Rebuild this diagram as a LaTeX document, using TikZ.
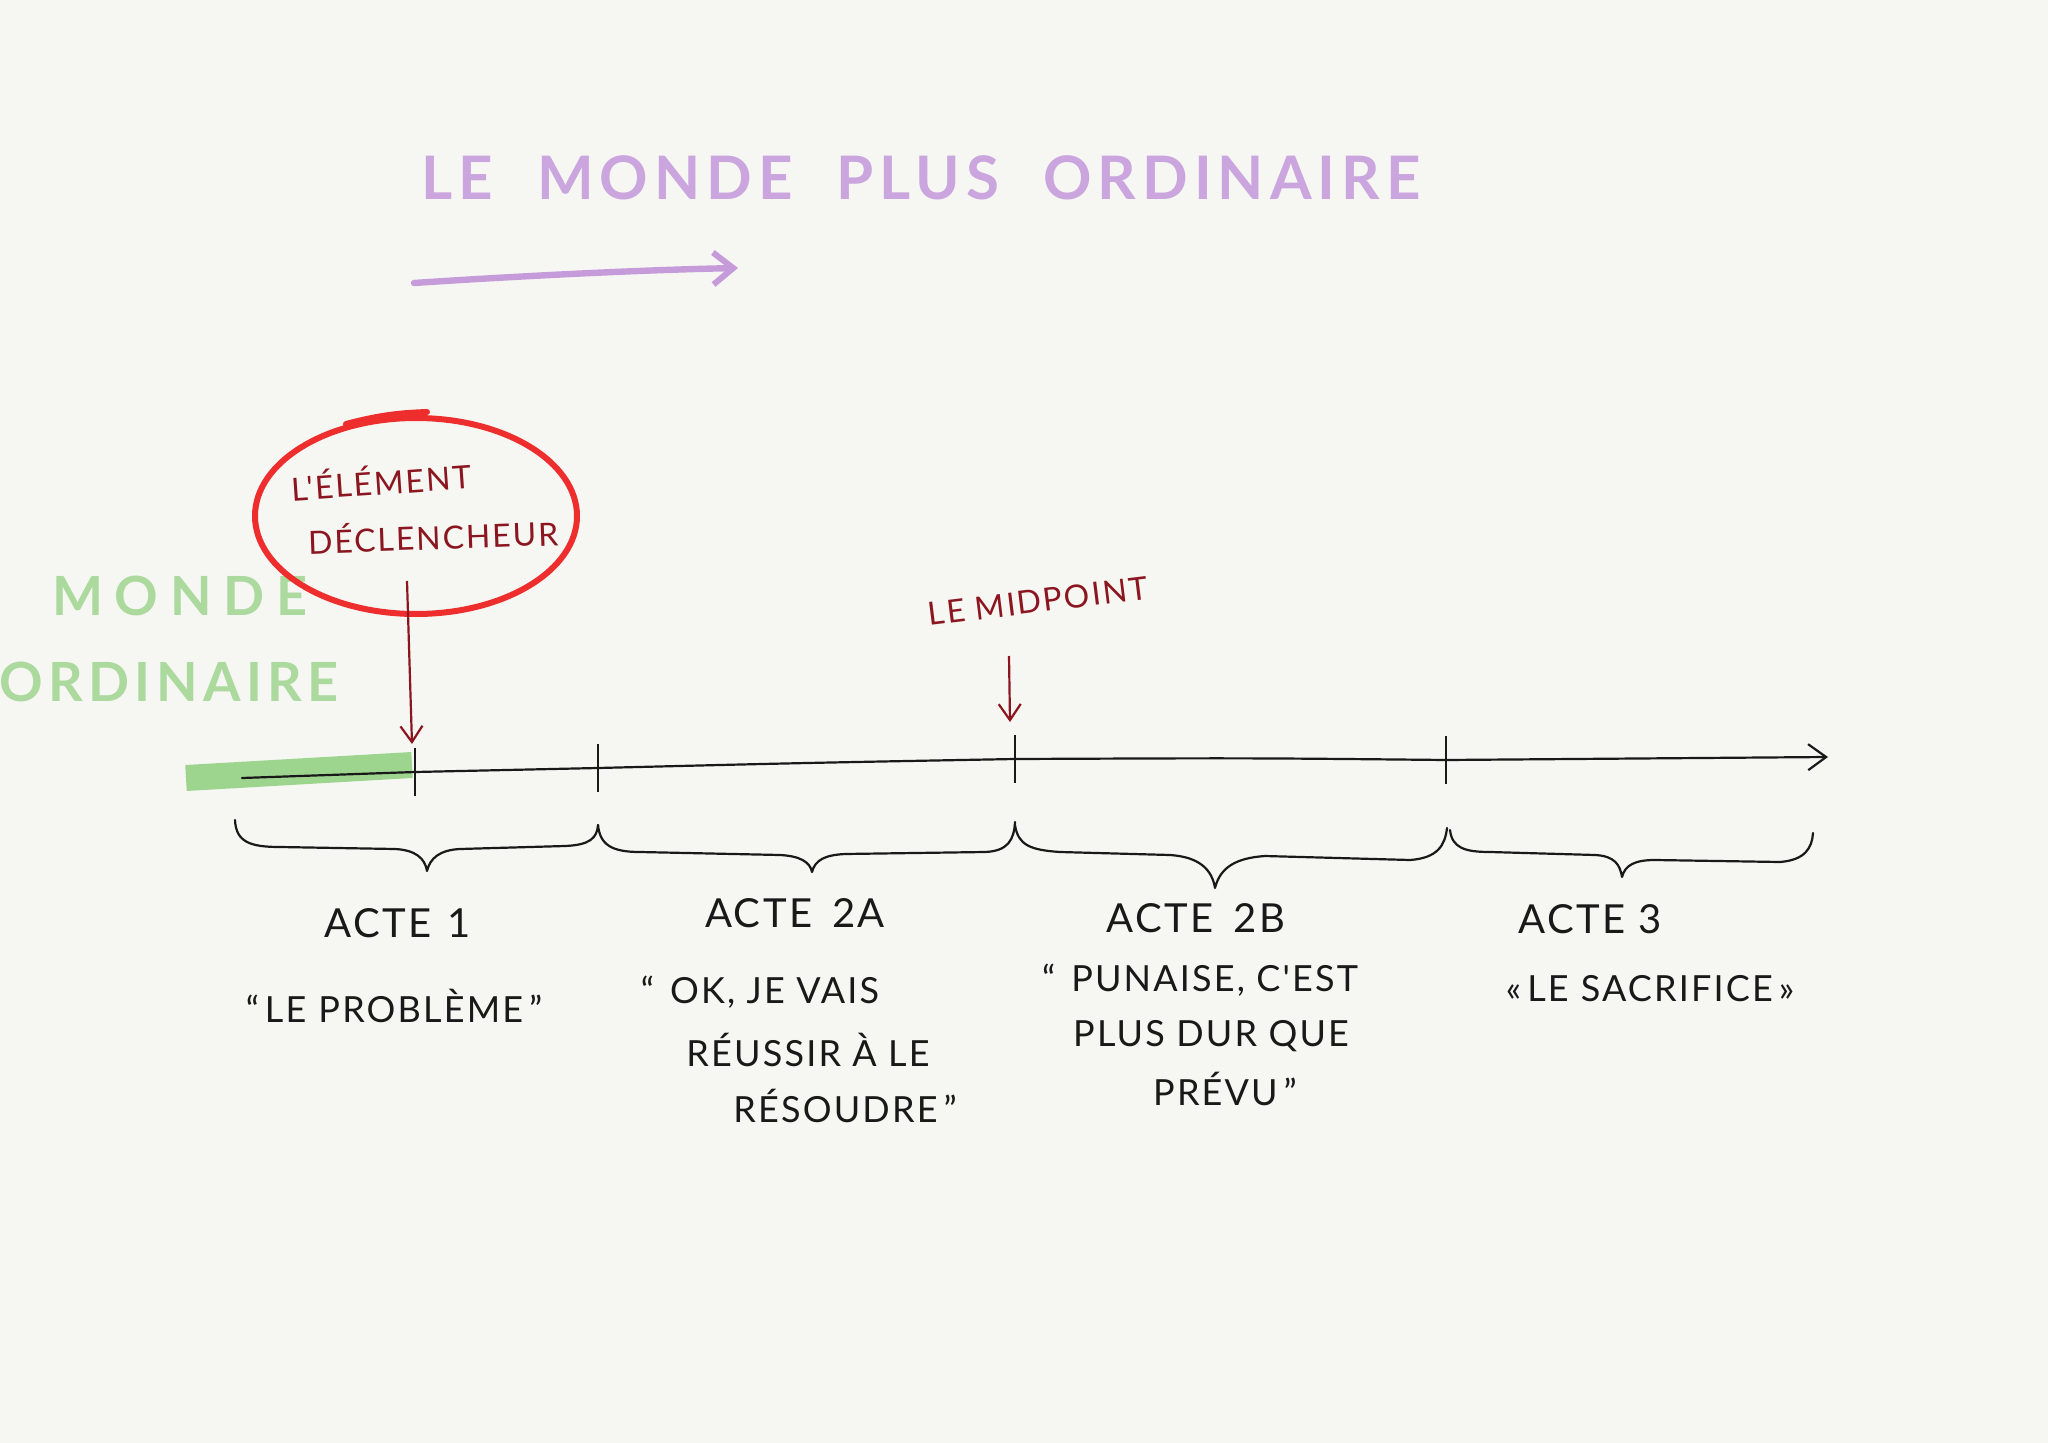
\documentclass[tikz,border=0pt]{standalone}
\usepackage{fontspec}
\setmainfont{Lato}
\newfontfamily\hand[LetterSpace=6]{Lato}
\newfontfamily\handwide[LetterSpace=10]{Lato}
\newfontfamily\handwider[LetterSpace=22]{Lato}
\usetikzlibrary{arrows.meta,shapes.geometric}
\definecolor{paper}{RGB}{246,247,243}
\definecolor{lilac}{RGB}{203,165,222}
\definecolor{lilacarrow}{RGB}{198,155,218}
\definecolor{mint}{RGB}{172,218,158}
\definecolor{mintbar}{RGB}{158,213,142}
\definecolor{circred}{RGB}{238,45,45}
\definecolor{wine}{RGB}{140,22,32}
\definecolor{ink}{RGB}{25,25,25}
\tikzset{
  acte/.style={font=\hand\fontsize{20}{24}\selectfont, text=ink},
  quoteline/.style={font=\hand\fontsize{18}{22}\selectfont, text=ink},
  redlabel/.style={font=\hand\fontsize{16}{20}\selectfont, text=wine},
  greenlabel/.style={font=\handwide\bfseries\fontsize{27}{30}\selectfont, text=mint},
  inkline/.style={draw=ink, line width=1.1pt, line cap=round, line join=round},
  tickmark/.style={draw=ink, line width=1.1pt},
  winearrow/.style={draw=wine, line width=1.1pt, -{Straight Barb[length=8pt,width=11pt,line width=1.1pt]}},
}
\begin{document}
\begin{tikzpicture}[x=0.5pt,y=-0.5pt]
\fill[paper] (0,0) rectangle (2048,1443);
\useasboundingbox (0,0) rectangle (2048,1443);

% title and purple arrow
\node[font=\handwide\bfseries\fontsize{30}{34}\selectfont, text=lilac] (title) at (921,178) {LE\hspace{22pt}MONDE\hspace{22pt}PLUS\hspace{22pt}ORDINAIRE};
\coordinate (pa1) at (414,283);
\coordinate (pa2) at (738,268);
\draw[draw=lilacarrow, line width=3.2pt, line cap=round, -{Straight Barb[length=10pt,width=16pt,line width=3pt]}] (pa1) .. controls (520,276) and (640,270) .. (pa2);

% green "monde ordinaire"
\node[greenlabel, font=\handwider\bfseries\fontsize{27}{30}\selectfont] (monde) at (180,596) {MONDE};
\node[greenlabel, anchor=west] (ordi) at (-8,682) {ORDINAIRE};

% green bar
\coordinate (gb1) at (186,778);
\coordinate (gb2) at (412,765);
\draw[draw=mintbar, line width=13pt, line cap=butt, rounded corners=2pt] (gb1) -- (gb2);

% timeline
\coordinate (tl0) at (242,778);
\coordinate (t1) at (415,772);
\coordinate (t2) at (598,768);
\coordinate (t3) at (1015,759);
\coordinate (t4) at (1446,760);
\coordinate (tlend) at (1828,757);
\draw[inkline, -{Straight Barb[length=9pt,width=13pt,line width=1.1pt]}] (tl0) -- (t1) -- (t2) .. controls (800,763) .. (t3) .. controls (1250,758) .. (t4) -- (tlend);
\foreach \t in {t1,t2,t3,t4} \draw[tickmark] ([yshift=12]\t) -- ([yshift=-12]\t);

% red ellipse with texts
\node[ellipse, draw=circred, line width=3pt, minimum width=161pt, minimum height=98pt] (trig) at (416,516) {};
\draw[draw=circred, line width=3pt, line cap=round] (346,424) .. controls (380,415) and (400,413) .. (427,412);
\node[redlabel, rotate=4] (elem) at (381,480) {L'ÉLÉMENT};
\node[redlabel, rotate=2] (decl) at (433,535) {DÉCLENCHEUR};
\coordinate (trigfoot) at (407,581);
\coordinate (t1top) at (412,744);
\draw[winearrow] (trigfoot) -- (t1top);

% midpoint
\node[redlabel, rotate=7] (mid) at (1038,601) {LE MIDPOINT};
\coordinate (midfoot) at (1009,656);
\coordinate (t3top) at (1010,722);
\draw[winearrow] (midfoot) -- (t3top);

% braces
\draw[inkline] (235,820) .. controls (236,842) and (250,847) .. (280,847) -- (395,849) .. controls (415,850) and (425,858) .. (427,871) .. controls (430,858) and (440,850) .. (460,849) -- (565,846) .. controls (590,845) and (597,838) .. (598,825);
\draw[inkline] (598,825) .. controls (600,845) and (612,852) .. (640,852) -- (780,855) .. controls (800,856) and (810,862) .. (812,872) .. controls (815,860) and (825,855) .. (845,854) -- (985,852) .. controls (1008,851) and (1014,840) .. (1015,822);
\draw[inkline] (1015,825) .. controls (1018,845) and (1030,850) .. (1060,852) -- (1170,855) .. controls (1200,857) and (1212,870) .. (1215,888) .. controls (1220,868) and (1235,858) .. (1265,856) -- (1410,860) .. controls (1438,858) and (1445,845) .. (1447,828);
\draw[inkline] (1450,830) .. controls (1452,848) and (1465,852) .. (1490,852) -- (1595,855) .. controls (1615,856) and (1620,865) .. (1622,877) .. controls (1625,865) and (1635,860) .. (1655,860) -- (1780,862) .. controls (1805,860) and (1812,848) .. (1813,833);

% act labels
\node[acte] (a1) at (398,923) {ACTE\hspace{8pt}1};
\node[acte] (a2a) at (795,913) {ACTE\hspace{10pt}2A};
\node[acte] (a2b) at (1196,918) {ACTE\hspace{10pt}2B};
\node[acte] (a3) at (1590,919) {ACTE 3};

% quotes
\node[quoteline] (q1) at (394,1006) {“\,LE\hspace{6pt}PROBLÈME\,”};
\node[quoteline] (q2a1) at (760,992) {“\hspace{8pt}OK, JE VAIS};
\node[quoteline] (q2a2) at (808,1050) {RÉUSSIR À LE};
\node[quoteline] (q2a3) at (845,1106) {RÉSOUDRE\,”};
\node[quoteline] (q2b1) at (1200,980) {“\hspace{8pt}PUNAISE, C'EST};
\node[quoteline] (q2b2) at (1211,1036) {PLUS DUR QUE};
\node[quoteline] (q2b3) at (1225,1089) {PRÉVU\,”};
\node[quoteline] (q3) at (1650,989) {«\,LE\hspace{6pt}SACRIFICE\,»};
\end{tikzpicture}
\end{document}
